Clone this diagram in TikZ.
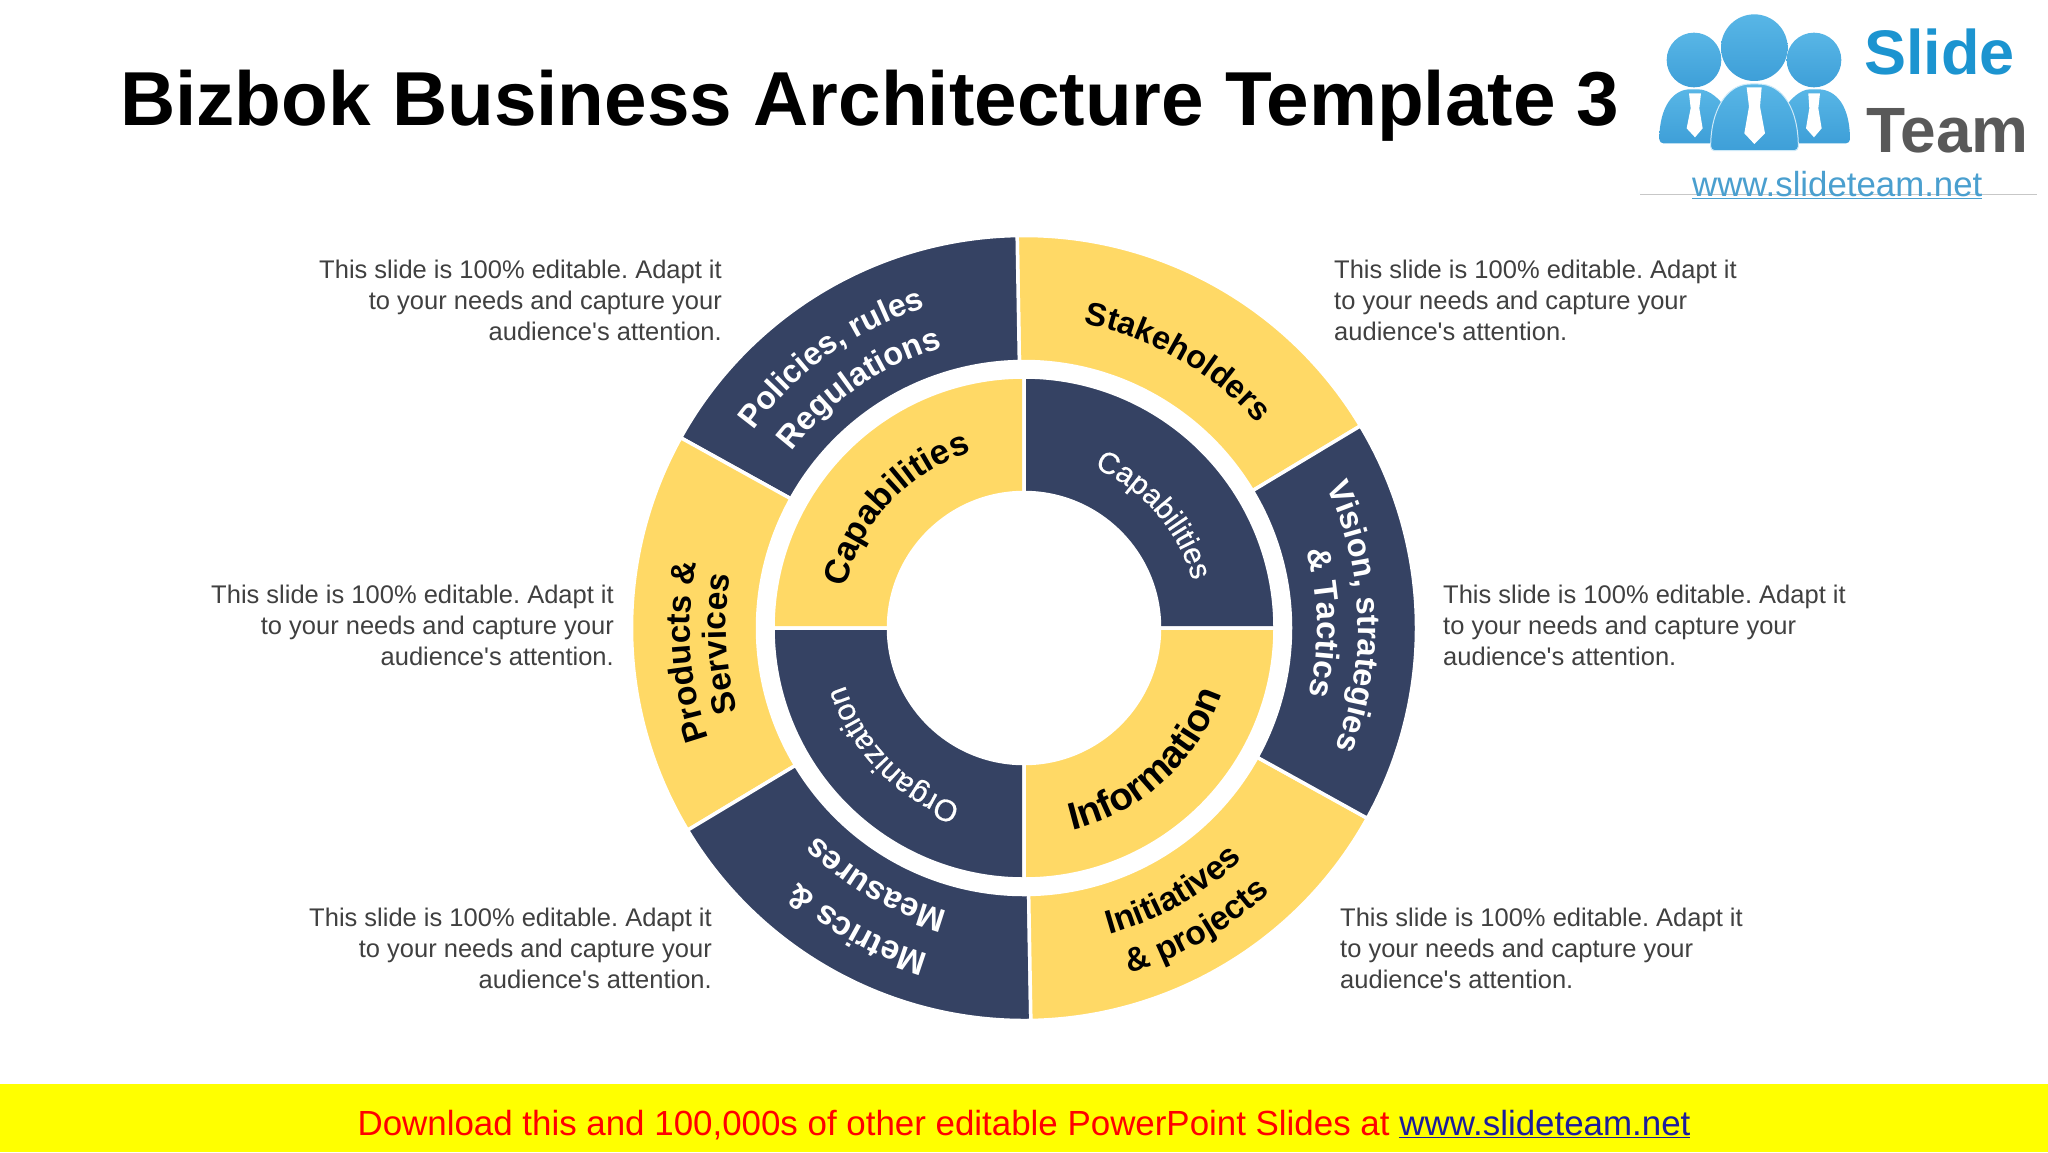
\documentclass[tikz,border=0pt]{standalone}
\usepackage{fontspec}
\setmainfont{Liberation Sans}
\newfontface\semib{Liberation Sans}[FakeBold=0.5]
\usetikzlibrary{decorations.text}
\definecolor{navy}{HTML}{354263}
\definecolor{gold}{HTML}{FFD966}
\definecolor{bodygrey}{HTML}{404040}
\definecolor{logotop}{HTML}{58B6E6}
\definecolor{logobot}{HTML}{3E9FD8}
\definecolor{logolink}{HTML}{4A9FCF}
\definecolor{slideblue}{HTML}{1C94D0}
\definecolor{bannerbg}{HTML}{FFFF00}
\definecolor{bannerred}{HTML}{FF0000}
\definecolor{bannerlink}{HTML}{1C1C9C}
\frenchspacing
\tikzset{
  sector/.style={draw=white,line width=3.5pt,line join=miter},
  para/.style={font=\fontsize{25.5}{31}\selectfont,text=bodygrey,inner sep=0pt},
  paraR/.style={para,align=right,anchor=east},
  paraL/.style={para,align=left,anchor=west},
  tie/.style={fill=white},
  logopart/.style={top color=logotop,bottom color=logobot}
}
% start, end, inner radius, outer radius, colour
\newcommand\ringsector[5]{%
  \path[sector,fill=#5] (#1:#4 pt) arc[start angle=#1,end angle=#2,radius=#4 pt]
    -- (#2:#3 pt) arc[start angle=#2,end angle=#1,radius=#3 pt] -- cycle;}
% clockwise text: baseline radius, mid angle, format, text
\newcommand\cwtext[4]{%
  \path[decorate,decoration={text along path,text align=center,
     text={|#3|#4}}]
     (#2+70:#1 pt) arc[start angle=#2+70,delta angle=-140,radius=#1 pt];}
\newcommand\ccwtext[4]{%
  \path[decorate,decoration={text along path,text align=center,
     text={|#3|#4}}]
     (#2-70:#1 pt) arc[start angle=#2-70,delta angle=140,radius=#1 pt];}
\newcommand\fb[1]{\fontsize{#1}{#1}\selectfont\bfseries}
\newcommand\blurb{This slide is 100\% editable. Adapt it\\to your needs and capture your\\audience\textquotesingle s attention.}
\begin{document}
\begin{tikzpicture}[x=1pt,y=-1pt]
\useasboundingbox (0,0) rectangle (2048,1152);
\fill[white] (0,0) rectangle (2048,1152);
% title
\node[anchor=base west,inner sep=0pt,font=\fontsize{76.5}{76.5}\selectfont\bfseries] (title) at (120,125) {Bizbok Business Architecture Template 3};
% banner
\fill[bannerbg] (0,1084) rectangle (2048,1152);
\node[anchor=base,inner sep=0pt,font=\fontsize{34.9}{34.9}\selectfont] (banner) at (1024,1135) {\textcolor{bannerred}{Download this and 100,000s of other editable PowerPoint Slides at }\textcolor{bannerlink}{\underline{www.slideteam.net}}};
% ring
\begin{scope}[shift={(1024,628)},y=1pt]
  \ringsector{31}{91}{266.5}{392.5}{gold}
  \ringsector{91}{151}{266.5}{392.5}{navy}
  \ringsector{151}{211}{266.5}{392.5}{gold}
  \ringsector{211}{271}{266.5}{392.5}{navy}
  \ringsector{271}{331}{266.5}{392.5}{gold}
  \ringsector{331}{391}{266.5}{392.5}{navy}
  \ringsector{90}{180}{135.5}{251}{gold}
  \ringsector{0}{90}{135.5}{251}{navy}
  \ringsector{180}{270}{135.5}{251}{navy}
  \ringsector{270}{360}{135.5}{251}{gold}
  \cwtext{310}{60}{\fb{32.5}}{Stakeholders}
  \cwtext{335}{125.5}{\fb{32}\color{white}}{Policies{,} rules}
  \cwtext{292}{124.5}{\fb{32.5}\color{white}}{Regulations}
  \cwtext{334}{2}{\fb{32.5}\color{white}}{Vision{,} strategies}
  \cwtext{293}{1}{\fb{33}\color{white}}{{\&} Tactics}
  \cwtext{334}{184}{\fb{33.5}}{Products {\&}}
  \cwtext{298}{183}{\fb{33.5}}{Services}
  \cwtext{340}{241}{\fb{33.5}\color{white}}{Metrics {\&}}
  \cwtext{293}{240}{\fb{33}\color{white}}{Measures}
  \ccwtext{318}{-60.5}{\fb{33.5}}{Initiatives}
  \ccwtext{361}{-60}{\fb{33.5}}{{\&} projects}
  \cwtext{183}{137}{\fb{34.5}}{Capabilities}
  \cwtext{175}{41}{\fontsize{30}{30}\selectfont\semib\color{white}}{Capabilities}
  \cwtext{188}{224}{\fontsize{30.5}{30.5}\selectfont\semib\color{white}}{Organization}
  \ccwtext{208}{-47.5}{\fb{38.5}}{Information}
\end{scope}
% paragraphs
\node[paraR] (tl) at (722,300) {\blurb};
\node[paraL] (tr) at (1334,300) {\blurb};
\node[paraR] (ml) at (614,625) {\blurb};
\node[paraL] (mr) at (1443,625) {\blurb};
\node[paraR] (bl) at (712,948) {\blurb};
\node[paraL] (br) at (1340,948) {\blurb};
% logo
\begin{scope}[shift={(1620,0)},x=0.3333pt,y=-0.3333pt]
  \path[logopart] (222,180) circle[radius=82];
  \path[logopart] (582,180) circle[radius=82];
  \path[logopart] (403,143) circle[radius=100];
  \path[logopart,rounded corners=4pt] (118,430) .. controls (118,320) and (160,268) .. (222,268) .. controls (270,268) and (300,300) .. (320,330) -- (320,430) -- cycle;
  \path[logopart,rounded corners=4pt] (690,430) .. controls (690,320) and (650,268) .. (582,268) .. controls (540,268) and (510,300) .. (490,330) -- (490,430) -- cycle;
  \path[logopart,draw=white!70!logotop,line width=1pt,rounded corners=4pt] (272,452) .. controls (272,330) and (320,252) .. (403,252) .. controls (490,252) and (535,330) .. (535,452) -- cycle;
  \fill[tie] (380,262) -- (425,262) -- (420,320) -- (435,400) -- (403,432) -- (373,400) -- (387,320) -- cycle;
  \fill[tie] (207,280) -- (243,280) -- (238,325) -- (248,385) -- (225,412) -- (200,385) -- (212,325) -- cycle;
  \fill[tie] (565,280) -- (600,280) -- (595,325) -- (605,385) -- (582,412) -- (558,385) -- (568,325) -- cycle;
  \draw[black!22,line width=1pt] (60,585) -- (1250,585);
\end{scope}
\node[anchor=base west,inner sep=0pt,font=\fontsize{63}{63}\selectfont\bfseries,text=slideblue] (slide) at (1864,74) {Slide};
\node[anchor=base west,inner sep=0pt,font=\fontsize{64}{64}\selectfont\bfseries,text=black!65] (team) at (1866,152) {Team};
\node[anchor=base west,inner sep=0pt,font=\fontsize{34.8}{34.8}\selectfont,text=logolink] (url) at (1692,196) {\underline{www.slideteam.net}};
\end{tikzpicture}
\end{document}
